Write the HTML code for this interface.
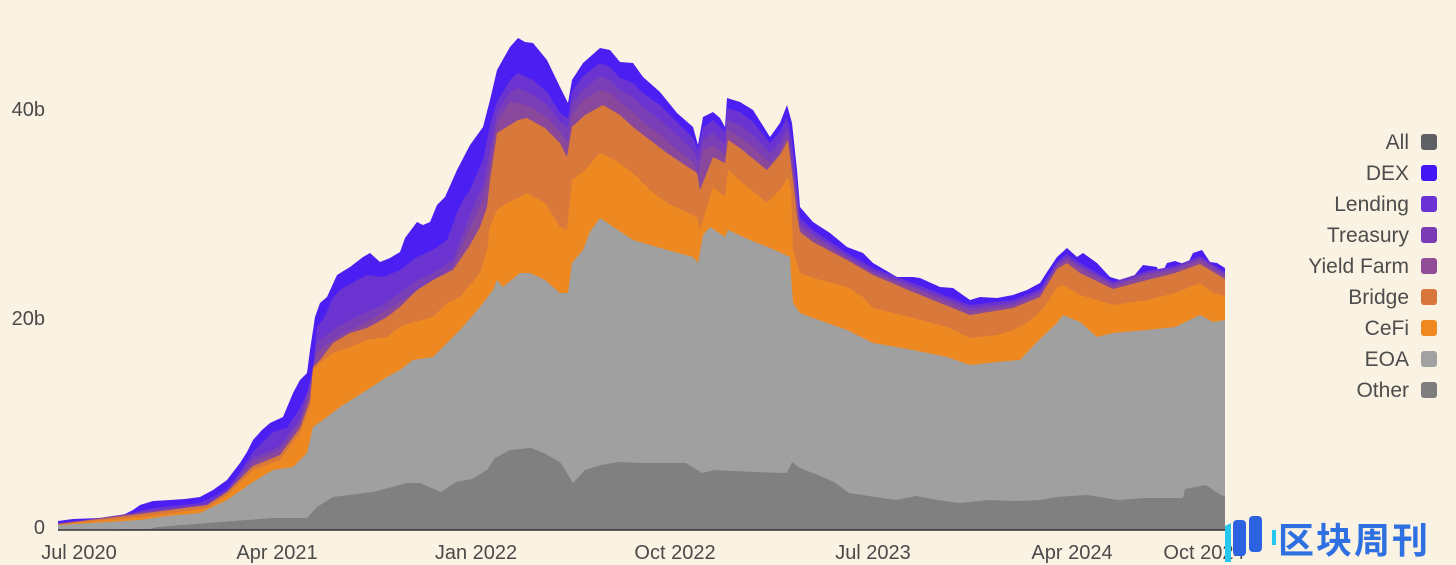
<!DOCTYPE html>
<html>
<head>
<meta charset="utf-8">
<style>
  html,body{margin:0;padding:0;background:#faf2e2;}
  body{width:1456px;height:565px;overflow:hidden;}
  svg{display:block;}
  text{font-family:"Liberation Sans","Noto Sans CJK SC",sans-serif;}
</style>
</head>
<body>
<svg width="1456" height="565" viewBox="0 0 1456 565" xmlns="http://www.w3.org/2000/svg">
  <rect x="0" y="0" width="1456" height="565" fill="#faf2e2"/>

  <!-- DEX -->
  <polygon fill="#4b1ff2" points="58,530 58,521 73,519 100,518 123,515 133,510 140,505 153,501 170,500 185,499 200,497 213,490 227,480 240,463 247,452 253,440 262,430 270,423 283,417 288,405 293,393 300,380 307,373 310,350 315,317 320,303 327,297 337,275 350,267 363,257 370,253 380,262 390,258 400,252 405,238 417,222 423,225 430,222 437,205 445,197 457,170 470,145 483,127 490,100 497,70 510,47 518,38 525,42 533,43 547,60 560,87 568,103 572,80 583,63 600,48 610,50 620,62 633,63 643,77 660,92 677,113 693,127 698,145 703,117 713,112 720,118 725,127 727,98 740,102 753,110 770,137 780,123 787,105 792,123 797,170 800,207 813,222 830,233 847,247 863,253 873,263 897,277 913,277 920,278 940,287 953,288 970,300 980,297 997,298 1013,295 1027,290 1040,283 1047,272 1057,257 1067,248 1077,257 1083,253 1097,263 1110,277 1120,280 1133,277 1143,265 1157,267 1160,277 1167,263 1175,261 1187,265 1193,253 1202,250 1210,262 1217,263 1225,268 1225,530"/>

  <!-- Lending -->
  <polygon fill="#6b34d0" points="58,530 58,523 73,521 123,518 140,511 153,508 200,503 213,497 227,489 240,472 253,452 273,432 287,428 300,408 307,393 313,370 317,327 323,320 333,298 340,290 357,280 367,275 383,277 400,270 417,257 433,250 447,240 457,213 463,200 470,190 483,160 490,125 497,102 510,80 518,73 533,80 547,92 560,113 568,118 572,92 583,76 600,63 610,67 620,78 633,83 643,93 660,105 677,122 693,138 698,150 703,128 713,120 725,132 727,108 740,112 753,122 770,143 780,132 787,117 792,140 797,185 800,218 813,230 847,253 873,268 913,283 970,305 1013,300 1040,289 1057,262 1067,254 1080,263 1113,282 1147,271 1175,266 1200,256 1225,272 1225,530"/>

  <!-- Treasury -->
  <polygon fill="#7a3fb6" points="58,530 58,524 140,512 207,504 227,491 253,458 280,446 300,419 310,384 317,343 320,340 337,327 360,315 383,305 400,293 417,280 433,273 453,260 470,215 483,185 490,150 497,113 510,92 518,88 533,95 547,105 560,122 568,128 572,103 583,90 600,76 610,80 620,90 633,97 643,107 660,120 677,135 693,150 698,162 703,140 713,132 725,145 727,120 740,125 753,135 770,153 780,143 787,127 792,152 797,195 800,223 813,234 847,256 873,271 913,286 970,308 1013,303 1040,292 1057,264 1067,257 1080,266 1113,284 1147,273 1175,268 1200,258 1225,274 1225,530"/>

  <!-- Yield Farm -->
  <polygon fill="#8a489c" points="58,530 58,524 140,513 207,505 227,492 253,462 280,450 300,423 310,390 317,352 320,350 337,337 367,322 400,302 433,280 453,267 470,228 483,200 490,165 497,123 510,102 518,103 533,108 547,118 560,132 568,143 572,115 583,100 600,90 610,93 620,103 633,112 643,122 660,135 677,150 693,162 698,175 703,150 713,145 725,155 727,130 740,137 753,147 770,163 780,152 787,135 792,165 797,203 800,227 813,237 847,258 873,273 913,288 970,311 1013,305 1040,294 1057,266 1067,259 1080,268 1113,286 1147,275 1175,270 1200,260 1225,276 1225,530"/>

  <!-- Bridge -->
  <polygon fill="#d8783b" points="58,530 58,524 140,514 207,505 227,492 253,466 280,455 300,428 310,400 313,367 320,360 333,343 350,333 367,328 387,317 400,307 417,290 433,280 453,270 470,245 480,227 487,207 490,180 497,133 510,125 518,120 527,118 545,128 560,143 567,157 572,127 585,115 603,105 620,115 633,127 650,140 667,153 697,173 700,190 713,157 725,163 728,140 740,148 767,170 780,155 788,140 793,180 797,215 800,232 813,242 847,260 873,275 913,292 970,315 1013,308 1040,297 1057,269 1067,263 1080,273 1113,289 1147,280 1175,273 1200,264 1225,279 1225,530"/>

  <!-- CeFi -->
  <polygon fill="#ee8922" points="58,530 58,525 73,523 140,517 173,513 207,508 227,495 253,470 280,460 300,433 310,407 313,370 320,363 333,353 350,347 367,340 387,337 400,327 410,323 433,317 447,303 460,297 480,273 487,250 490,227 497,210 507,203 520,197 527,193 545,203 560,227 567,230 572,180 585,170 600,153 615,160 633,173 650,190 667,203 697,217 700,230 713,187 725,197 728,170 745,185 767,203 780,190 788,177 791,190 793,250 800,273 813,278 847,287 863,297 873,308 913,318 947,327 970,338 997,335 1013,330 1027,323 1040,312 1047,303 1057,287 1063,285 1080,295 1097,300 1113,305 1147,300 1175,293 1200,283 1213,293 1225,296 1225,530"/>

  <!-- EOA -->
  <polygon fill="#a0a0a0" points="58,530 58,525 140,520 167,516 200,513 227,500 253,482 273,470 293,467 307,453 313,427 323,420 340,407 367,390 387,377 400,370 413,360 433,357 450,340 460,330 480,307 493,290 497,280 503,287 520,273 530,273 545,280 560,293 568,293 572,263 583,250 590,232 600,218 615,228 633,240 650,245 667,250 693,257 698,263 703,235 710,227 725,237 728,230 750,240 770,248 790,257 792,290 793,303 800,313 813,318 847,330 873,343 913,350 947,357 970,365 997,362 1020,360 1037,342 1057,323 1063,315 1080,322 1097,337 1113,333 1147,330 1175,327 1200,315 1213,322 1225,320 1225,530"/>

  <!-- Other -->
  <polygon fill="#808080" points="58,530 150,529 157,527 207,523 273,518 307,518 317,507 333,497 373,492 407,483 420,483 441,492 456,482 472,479 487,470 495,458 510,450 531,448 544,453 560,462 567,473 573,483 585,470 601,465 619,462 642,463 668,463 686,463 702,473 715,470 735,471 756,472 787,473 792,462 800,468 818,475 834,482 849,493 875,497 896,500 916,496 937,500 960,503 989,500 1015,501 1040,500 1056,497 1087,495 1118,500 1144,498 1183,498 1185,489 1206,485 1216,492 1225,497 1225,530"/>

  <!-- baseline axis -->
  <line x1="58" y1="530" x2="1225" y2="530" stroke="#333333" stroke-width="1.6"/>

  <!-- Y labels -->
  <g fill="#4a4a4a" font-size="20" text-anchor="end">
    <text x="45" y="116">40b</text>
    <text x="45" y="325">20b</text>
    <text x="45" y="534">0</text>
  </g>

  <!-- X labels -->
  <g fill="#4a4a4a" font-size="20" text-anchor="middle">
    <text x="79" y="559">Jul 2020</text>
    <text x="277" y="559">Apr 2021</text>
    <text x="476" y="559">Jan 2022</text>
    <text x="675" y="559">Oct 2022</text>
    <text x="873" y="559">Jul 2023</text>
    <text x="1072" y="559">Apr 2024</text>
    <text x="1204" y="559">Oct 2024</text>
  </g>

  <!-- Legend -->
  <g fill="#4d4d4d" font-size="21" text-anchor="end">
    <text x="1409" y="149">All</text>
    <text x="1409" y="180">DEX</text>
    <text x="1409" y="211">Lending</text>
    <text x="1409" y="242">Treasury</text>
    <text x="1409" y="273">Yield Farm</text>
    <text x="1409" y="304">Bridge</text>
    <text x="1409" y="335">CeFi</text>
    <text x="1409" y="366">EOA</text>
    <text x="1409" y="397">Other</text>
  </g>
  <g>
    <rect x="1421" y="134" width="16" height="16" rx="3" fill="#5f6063"/>
    <rect x="1421" y="165" width="16" height="16" rx="3" fill="#4317f5"/>
    <rect x="1421" y="196" width="16" height="16" rx="3" fill="#6a32d2"/>
    <rect x="1421" y="227" width="16" height="16" rx="3" fill="#7b3db6"/>
    <rect x="1421" y="258" width="16" height="16" rx="3" fill="#914d96"/>
    <rect x="1421" y="289" width="16" height="16" rx="3" fill="#d8773b"/>
    <rect x="1421" y="320" width="16" height="16" rx="3" fill="#ef8a22"/>
    <rect x="1421" y="351" width="16" height="16" rx="3" fill="#a1a1a1"/>
    <rect x="1421" y="382" width="16" height="16" rx="3" fill="#7e7e7e"/>
  </g>

  <!-- Watermark -->
  <g>
    <polygon points="1225,526 1231,523 1231,562 1225,562" fill="#27c6ee"/>
    <rect x="1233" y="520" width="13" height="36" rx="4" fill="#2a62df"/>
    <rect x="1249" y="516" width="13" height="36" rx="4" fill="#2a62df"/>
    <rect x="1272" y="530" width="4" height="15" fill="#27c6ee"/>
    <text x="1278" y="553" font-size="36" font-weight="bold" fill="#2e70e2" letter-spacing="2" font-family="'Noto Sans CJK SC','WenQuanYi Zen Hei',sans-serif">区块周刊</text>
  </g>
</svg>
</body>
</html>
